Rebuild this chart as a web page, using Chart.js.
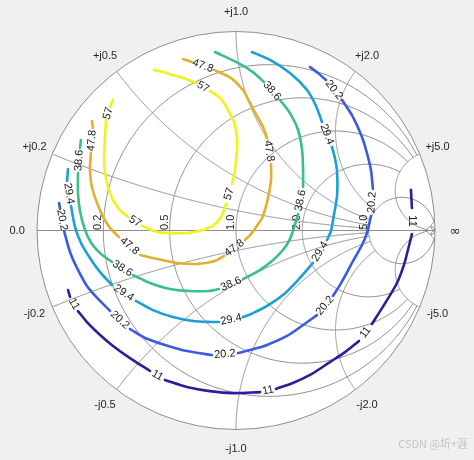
<!DOCTYPE html>
<html>
<head>
<meta charset="utf-8">
<script src="https://cdn.jsdelivr.net/npm/chart.js@4/dist/chart.umd.min.js"></script>
<style>
  html, body { margin: 0; padding: 0; background: #f0f0f0; }
  #wrap { position: relative; width: 474px; height: 460px; }
</style>
</head>
<body>
<div id="wrap"><canvas id="smith"></canvas></div>
<script>
// contour levels + parula-ish colours
const levels = ['11', '20.2', '29.4', '38.6', '47.8', '57'];
const levelColors = ['#2a1f98', '#3c5ae6', '#1c9fd6', '#38bf8a', '#e5ae2d', '#f2f218'];

// smith grid: values and how far each circle / arc is drawn
const gridValues = [0.2, 0.5, 1, 2, 5, 50];
const gridLimits = [5, 5, 5, 5, 50, Infinity];
const resistanceLabels = ['0.2', '0.5', '1.0', '2.0', '5.0'];
const reactanceLabels = ['0.2', '0.5', '1.0', '2.0', '5.0'];

// contours, reflection coefficient [re, im]; null = gap where the level label sits
const c11 = [[-0.844,-0.299],[-0.834,-0.334],null,[-0.794,-0.405],[-0.749,-0.460],[-0.683,-0.525],[-0.618,-0.580],[-0.533,-0.641],[-0.432,-0.706],null,
  [-0.357,-0.751],[-0.246,-0.786],[-0.131,-0.807],[-0.015,-0.817],[0.121,-0.812],null,[0.201,-0.796],[0.286,-0.766],[0.372,-0.726],[0.472,-0.661],
  [0.548,-0.611],[0.618,-0.555],null,[0.683,-0.470],[0.744,-0.374],[0.809,-0.264],[0.844,-0.173],[0.864,-0.098],[0.884,-0.018],null,[0.884,0.113],[0.879,0.204]];
const c202 = [[-0.889,0.138],[-0.884,0.108],null,[-0.864,-0.003],[-0.834,-0.108],[-0.799,-0.188],[-0.749,-0.279],[-0.693,-0.344],[-0.633,-0.404],null,
  [-0.533,-0.495],[-0.457,-0.540],[-0.357,-0.575],[-0.246,-0.606],[-0.121,-0.626],null,[0.010,-0.616],[0.070,-0.601],[0.156,-0.575],[0.256,-0.530],
  [0.337,-0.475],[0.407,-0.425],null,[0.487,-0.329],[0.528,-0.264],[0.583,-0.163],[0.633,-0.073],[0.658,-0.013],[0.678,0.073],null,[0.688,0.209],
  [0.678,0.304],[0.658,0.389],[0.633,0.470],[0.588,0.570],[0.533,0.656],null,[0.452,0.756],[0.412,0.791],[0.372,0.822]];
const c294 = [[-0.844,0.309],[-0.849,0.249],null,[-0.829,0.123],[-0.809,0.018],[-0.779,-0.063],[-0.734,-0.138],[-0.683,-0.209],[-0.623,-0.274],null,
  [-0.503,-0.354],[-0.417,-0.400],[-0.317,-0.435],[-0.216,-0.455],[-0.121,-0.460],[-0.085,-0.460],null,[0.035,-0.435],[0.075,-0.420],[0.156,-0.379],
  [0.236,-0.324],[0.307,-0.254],[0.387,-0.163],null,[0.457,-0.048],[0.477,-0.003],[0.492,0.078],[0.508,0.178],[0.508,0.294],[0.497,0.364],[0.482,0.420],null,
  [0.432,0.545],[0.402,0.626],[0.357,0.706],[0.271,0.791],[0.171,0.857],[0.080,0.897]];
const c386 = [[-0.779,0.455],[-0.784,0.415],null,[-0.794,0.289],[-0.794,0.188],[-0.784,0.098],[-0.759,0.003],[-0.724,-0.068],[-0.678,-0.118],[-0.623,-0.158],null,
  [-0.518,-0.224],[-0.432,-0.264],[-0.332,-0.294],[-0.231,-0.304],[-0.136,-0.304],[-0.085,-0.294],null,[0.035,-0.244],[0.111,-0.204],[0.181,-0.153],
  [0.236,-0.098],[0.271,-0.043],[0.291,0.013],[0.312,0.083],null,[0.337,0.219],[0.337,0.304],[0.332,0.405],[0.312,0.505],[0.271,0.590],[0.221,0.656],null,
  [0.141,0.746],[0.085,0.796],[0.010,0.842],[-0.106,0.897]];
const c478 = [[-0.724,0.550],[-0.719,0.515],null,[-0.729,0.389],[-0.734,0.304],[-0.724,0.219],[-0.698,0.138],[-0.668,0.068],[-0.633,0.013],[-0.588,-0.033],null,
  [-0.482,-0.123],[-0.397,-0.143],[-0.296,-0.163],[-0.196,-0.168],[-0.106,-0.153],[-0.060,-0.128],null,[0.045,-0.048],[0.075,-0.018],[0.101,0.018],
  [0.131,0.063],[0.151,0.123],[0.166,0.188],[0.176,0.254],[0.176,0.334],null,[0.156,0.465],[0.136,0.520],[0.106,0.575],[0.070,0.641],[0.035,0.706],
  [-0.025,0.766],[-0.111,0.807],null,[-0.221,0.847],[-0.266,0.862]];
const c57 = [[-0.618,0.656],[-0.633,0.621],null,[-0.653,0.555],[-0.658,0.470],[-0.663,0.354],[-0.658,0.289],[-0.643,0.219],[-0.618,0.153],[-0.583,0.103],[-0.543,0.068],null,
  [-0.472,0.023],[-0.397,-0.008],[-0.332,-0.013],[-0.246,-0.013],[-0.166,0.003],[-0.116,0.023],[-0.075,0.068],[-0.050,0.133],null,[-0.020,0.234],
  [-0.005,0.304],[0.005,0.405],[0.005,0.470],[-0.010,0.545],[-0.040,0.606],[-0.080,0.666],[-0.131,0.701],null,[-0.201,0.741],[-0.266,0.766],
  [-0.317,0.781],[-0.367,0.796],[-0.412,0.807]];
const contours = [c11, c202, c294, c386, c478, c57];

const FONT = "11px 'Liberation Sans', Arial, sans-serif";

// z = r + jx  ->  gamma
function toGamma(r, x){
  const den = (r + 1) * (r + 1) + x * x;
  return [((r - 1) * (r + 1) + x * x) / den, (2 * x) / den];
}

const smithGrid = {
  id: 'smithGrid',
  beforeDatasetsDraw(chart){
    const {ctx, scales:{x: sx, y: sy}} = chart;
    const px = g => [sx.getPixelForValue(g[0]), sy.getPixelForValue(g[1])];
    const cx = sx.getPixelForValue(0), cy = sy.getPixelForValue(0);
    const R = sx.getPixelForValue(1) - cx;
    ctx.save();
    ctx.fillStyle = '#f0f0f0';
    ctx.fillRect(0, 0, chart.width, chart.height);
    ctx.beginPath(); ctx.arc(cx, cy, R, 0, Math.PI * 2);
    ctx.fillStyle = '#ffffff'; ctx.fill();

    ctx.strokeStyle = '#8e8e8e'; ctx.lineWidth = 1;
    const curve = fn => {
      ctx.beginPath();
      for (let i = 0; i <= 400; i++) {
        const p = px(fn(i / 400));
        if (i === 0) ctx.moveTo(p[0], p[1]); else ctx.lineTo(p[0], p[1]);
      }
      ctx.stroke();
    };
    gridValues.forEach((v, k) => {
      const lim = Math.atan(gridLimits[k]);
      // constant resistance circle
      curve(t => toGamma(v, Math.tan(-lim + 2 * lim * t)));
      // constant reactance arcs
      curve(t => toGamma(Math.tan(lim * t), v));
      curve(t => toGamma(Math.tan(lim * t), -v));
    });
    ctx.beginPath(); ctx.arc(cx, cy, R, 0, Math.PI * 2); ctx.stroke();
    ctx.beginPath(); ctx.moveTo(cx - R, cy); ctx.lineTo(cx + R, cy); ctx.stroke();

    // labels
    ctx.fillStyle = '#262626'; ctx.font = FONT;
    ctx.textAlign = 'center'; ctx.textBaseline = 'middle';
    reactanceLabels.forEach((lab, k) => {
      const g = toGamma(0, gridValues[k]);
      const up = px([g[0] * 1.097, g[1] * 1.097]);
      const dn = px([g[0] * 1.097, -g[1] * 1.097]);
      ctx.fillText('+j' + lab, up[0], up[1]);
      ctx.fillText('-j' + lab, dn[0], dn[1]);
    });
    let p = px([-1.1, 0]); ctx.fillText('0.0', p[0], p[1]);
    p = px([1.1, 0]); ctx.font = "13px 'DejaVu Sans', sans-serif"; ctx.fillText('\u221E', p[0], p[1] + 1);
    ctx.font = FONT;
    resistanceLabels.forEach((lab, k) => {
      const q = px([toGamma(gridValues[k], 0)[0], 0]);
      ctx.save();
      ctx.translate(q[0] - 2, q[1] - 0.5);
      ctx.rotate(-Math.PI / 2);
      ctx.textAlign = 'left'; ctx.textBaseline = 'alphabetic';
      ctx.fillText(lab, 0, 0);
      ctx.restore();
    });
    ctx.restore();
  },
  afterDatasetsDraw(chart){
    const {ctx, scales:{x: sx, y: sy}} = chart;
    ctx.save();
    ctx.font = FONT; ctx.fillStyle = '#1a1a1a';
    ctx.textAlign = 'center'; ctx.textBaseline = 'middle';
    contours.forEach((pts, k) => {
      pts.forEach((pt, i) => {
        if (pt !== null || !pts[i - 1] || !pts[i + 1]) return;
        const a = pts[i - 1], b = pts[i + 1];
        const x1 = sx.getPixelForValue(a[0]), y1 = sy.getPixelForValue(a[1]);
        const x2 = sx.getPixelForValue(b[0]), y2 = sy.getPixelForValue(b[1]);
        let ang = Math.atan2(y2 - y1, x2 - x1);
        if (ang > Math.PI / 2) ang -= Math.PI;
        if (ang <= -Math.PI / 2) ang += Math.PI;
        ctx.save();
        ctx.translate((x1 + x2) / 2, (y1 + y2) / 2);
        ctx.rotate(ang);
        ctx.fillText(levels[k], 0, 0);
        ctx.restore();
      });
    });
    ctx.font = "11px 'Noto Sans CJK SC', sans-serif";
    ctx.fillStyle = '#c4c4c4'; ctx.textAlign = 'right';
    ctx.fillText('CSDN @圻+涯', 468, 444);
    ctx.restore();
  }
};

new Chart(document.getElementById('smith'), {
  type: 'scatter',
  data: {
    datasets: contours.map((pts, k) => ({
      label: levels[k],
      data: pts.map(p => p ? {x: p[0], y: p[1]} : {x: null, y: null}),
      showLine: true,
      spanGaps: false,
      borderColor: levelColors[k],
      borderWidth: 2.6,
      borderCapStyle: 'round',
      borderJoinStyle: 'round',
      pointRadius: 0,
      tension: 0.3
    }))
  },
  options: {
    responsive: true,
    maintainAspectRatio: false,
    animation: false,
    layout: { padding: 0 },
    plugins: { legend: { display: false }, tooltip: { enabled: false } },
    scales: {
      x: { type: 'linear', min: -236 / 199, max: 238 / 199, display: false },
      y: { type: 'linear', min: -229.5 / 199, max: 230.5 / 199, display: false }
    }
  },
  plugins: [smithGrid]
});
</script>
</body>
</html>
